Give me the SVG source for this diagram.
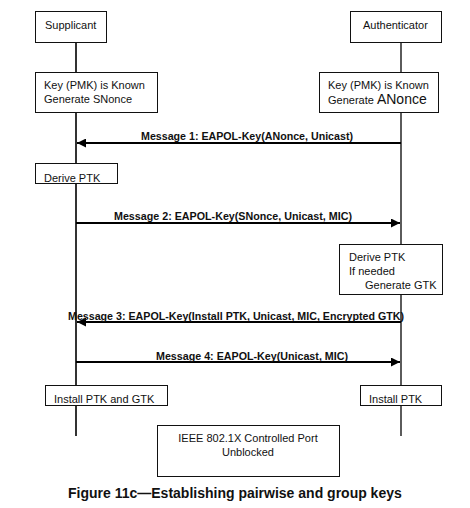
<svg xmlns="http://www.w3.org/2000/svg" width="470" height="508" viewBox="0 0 470 508">
<style>
text{font-family:"Liberation Sans",Arial,sans-serif;font-size:11px;fill:#111}
.b{font-weight:bold}
.box{fill:#fff;stroke:#111;stroke-width:1}
.life{stroke:#333;stroke-width:2}
.msg{stroke:#000;stroke-width:2;fill:none}
.cap{font-weight:bold;font-size:14px}
</style>
<defs>
<marker id="ah" viewBox="0 0 10 10" refX="10" refY="5" markerWidth="4.5" markerHeight="4.5" orient="auto" markerUnits="strokeWidth">
<path d="M0,0 L10,5 L0,10 z" fill="#000"/>
</marker>
</defs>
<rect width="470" height="508" fill="#fff"/>
<g id="lifelines">
<line class="life" x1="76" y1="42" x2="76" y2="436"/>
<line class="life" x1="401" y1="42" x2="401" y2="436" style="stroke-width:1.6"/>
</g>
<g id="supplicant"><rect class="box" x="35.5" y="11.5" width="71" height="31"/><text x="45" y="29">Supplicant</text></g>
<g id="authenticator"><rect class="box" x="350.5" y="11.5" width="91" height="31"/><text x="363" y="29">Authenticator</text></g>
<g id="s-key"><rect class="box" x="35.5" y="72.5" width="122" height="40"/><text x="44" y="89">Key (PMK) is Known</text><text x="44" y="103">Generate SNonce</text></g>
<g id="a-key"><rect class="box" x="319.5" y="72.5" width="119" height="40"/><text x="328" y="89">Key (PMK) is Known</text><text x="328" y="104">Generate <tspan style="font-size:14px">ANonce</tspan></text></g>
<g id="s-derive"><rect class="box" x="35.5" y="163.5" width="82" height="20"/><text x="44" y="182">Derive PTK</text></g>
<g id="a-derive"><rect class="box" x="339.5" y="244.5" width="103" height="50"/><text x="349" y="261">Derive PTK</text><text x="349" y="275">If needed</text><text x="365" y="289">Generate GTK</text></g>
<g id="s-install"><rect class="box" x="45.5" y="385.5" width="122" height="20"/><text x="54" y="403">Install PTK and GTK</text></g>
<g id="a-install"><rect class="box" x="360.5" y="385.5" width="81" height="20"/><text x="369" y="403">Install PTK</text></g>
<g id="port"><rect class="box" x="157.5" y="425.5" width="182" height="51"/><text x="248" y="442" text-anchor="middle">IEEE 802.1X Controlled Port</text><text x="248" y="456" text-anchor="middle">Unblocked</text></g>
<g id="connectors">
<line class="msg" x1="401" y1="143" x2="77" y2="143" marker-end="url(#ah)"/>
<text class="b" x="141" y="140" textLength="212" lengthAdjust="spacingAndGlyphs">Message 1: EAPOL-Key(ANonce, Unicast)</text>
<line class="msg" x1="76" y1="223" x2="400" y2="223" marker-end="url(#ah)"/>
<text class="b" x="114" y="220" textLength="238" lengthAdjust="spacingAndGlyphs">Message 2: EAPOL-Key(SNonce, Unicast, MIC)</text>
<line class="msg" x1="401" y1="322" x2="77" y2="322" marker-end="url(#ah)"/>
<text class="b" x="68" y="320" textLength="336" lengthAdjust="spacingAndGlyphs">Message 3: EAPOL-Key(Install PTK, Unicast, MIC, Encrypted GTK)</text>
<line class="msg" x1="76" y1="362" x2="400" y2="362" marker-end="url(#ah)"/>
<text class="b" x="156" y="360" textLength="192" lengthAdjust="spacingAndGlyphs">Message 4: EAPOL-Key(Unicast, MIC)</text>
</g>
<text class="cap" x="68" y="498">Figure 11c—Establishing pairwise and group keys</text>
</svg>
